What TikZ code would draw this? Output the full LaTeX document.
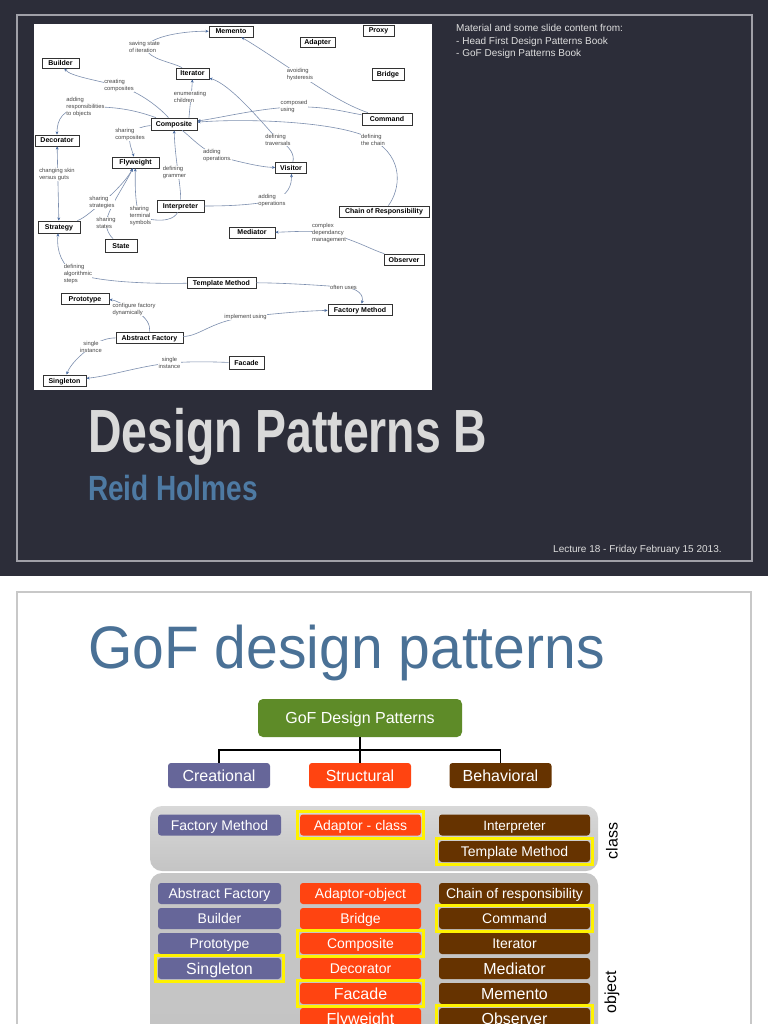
\documentclass[tikz,border=0pt]{standalone}
\usepackage{fontspec}
\setmainfont{Liberation Sans}
\usetikzlibrary{arrows.meta,fit}
\definecolor{slidebg}{RGB}{44,45,57}
\definecolor{slideborder}{RGB}{160,160,168}
\definecolor{titlegray}{RGB}{217,217,217}
\definecolor{notegray}{RGB}{222,222,222}
\definecolor{reidblue}{RGB}{78,122,163}
\definecolor{edgec}{RGB}{125,143,175}
\definecolor{arrowc}{RGB}{70,105,160}
\definecolor{lblc}{RGB}{70,70,70}
\definecolor{gofgreen}{RGB}{94,139,40}
\definecolor{crepurple}{RGB}{102,102,153}
\definecolor{strorange}{RGB}{255,68,17}
\definecolor{behbrown}{RGB}{102,51,0}
\definecolor{gofblue}{RGB}{74,113,150}
\definecolor{paneltop}{RGB}{216,216,216}
\definecolor{panelbot}{RGB}{196,196,196}
\definecolor{border2}{RGB}{200,200,200}
\begin{document}
\begin{tikzpicture}[x=1pt,y=-1pt,
  pnode/.style={draw=black!80, line width=0.7pt, fill=white, inner sep=0pt,
    text height=5.6, text depth=0.6,
    font=\fontsize{7}{8}\selectfont\bfseries},
  plbl/.style={font=\fontsize{5.8}{7}\selectfont, text=lblc, fill=white,
    inner sep=0.3pt, align=left},
  plblc/.style={plbl, align=center},
  edge/.style={draw=edgec, line width=0.6pt},
  arr/.style={-{Stealth[length=3.2pt,width=2.8pt,color=arrowc]}},
  darr/.style={{Stealth[length=3.2pt,width=2.8pt,color=arrowc]}-{Stealth[length=3.2pt,width=2.8pt,color=arrowc]}},
  catbox/.style={rounded corners=3pt, text=white, inner sep=0pt,
    minimum width=102, minimum height=25, text height=12.5, text depth=1,
    font=\fontsize{16}{16}\selectfont},
  item/.style={rounded corners=3pt, text=white, inner sep=0pt,
    minimum height=21, text height=11, text depth=1,
    font=\fontsize{14}{14}\selectfont},
  big/.style={font=\fontsize{16}{16}\selectfont, text height=12.4, text depth=1},
  creitem/.style={item, fill=crepurple, minimum width=123},
  stritem/.style={item, fill=strorange, minimum width=121},
  behitem/.style={item, fill=behbrown, minimum width=151},
  hl/.style={draw=yellow, line width=3pt, inner sep=2.5pt},
  tree/.style={draw=black, line width=1.2pt}
]
\useasboundingbox (0,0) rectangle (768,1024);
\fill[white] (0,0) rectangle (768,1024);
% ---------- top slide ----------
\fill[slidebg] (0,0) rectangle (768,576);
\draw[slideborder, line width=1.5pt] (17,15) rectangle (752,561);
\fill[white] (34,24) rectangle (432,390);

% pattern map nodes
\node[pnode, minimum width=44, minimum height=11] (mem) at (231,31.5) {Memento};
\node[pnode, minimum width=35, minimum height=10] (adp) at (317.5,42) {Adapter};
\node[pnode, minimum width=31, minimum height=11] (prx) at (378.5,30.5) {Proxy};
\node[pnode, minimum width=32, minimum height=12] (brg) at (388,74) {Bridge};
\node[pnode, minimum width=50, minimum height=12] (cmd) at (387,119) {Command};
\node[pnode, minimum width=37, minimum height=10] (bld) at (60.5,63) {Builder};
\node[pnode, minimum width=33, minimum height=11] (itr) at (192.5,73.5) {Iterator};
\node[pnode, minimum width=46, minimum height=12] (cmp) at (174,124) {Composite};
\node[pnode, minimum width=44, minimum height=11] (dec) at (57,140.5) {Decorator};
\node[pnode, minimum width=47, minimum height=11] (fly) at (135.5,162.5) {Flyweight};
\node[pnode, minimum width=47, minimum height=12] (int) at (180.5,206) {Interpreter};
\node[pnode, minimum width=42, minimum height=12] (str) at (59,227) {Strategy};
\node[pnode, minimum width=32, minimum height=13] (sta) at (121,245.5) {State};
\node[pnode, minimum width=31, minimum height=11] (vis) at (291,168) {Visitor};
\node[pnode, minimum width=90, minimum height=11] (cor) at (384,211.5) {Chain of Responsibility};
\node[pnode, minimum width=46, minimum height=11] (med) at (252,232.5) {Mediator};
\node[pnode, minimum width=40, minimum height=11] (obs) at (404,259.5) {Observer};
\node[pnode, minimum width=69, minimum height=11] (tpl) at (221.5,282.5) {Template Method};
\node[pnode, minimum width=48, minimum height=11] (pro) at (85,298.5) {Prototype};
\node[pnode, minimum width=67, minimum height=11] (af) at (149.5,337.5) {Abstract Factory};
\node[pnode, minimum width=43, minimum height=11] (sgl) at (64.5,380.5) {Singleton};
\node[pnode, minimum width=64, minimum height=11] (fm) at (360,309.5) {Factory Method};
\node[pnode, minimum width=35, minimum height=13] (fac) at (246.5,363) {Facade};

% pattern map connectors
\draw[edge, arr] (itr) .. controls (172,62) and (150,60) .. (145,48) .. controls (150,36) and (185,31) .. (mem);
\draw[edge, arr] (cmp) .. controls (160,108) and (140,92) .. (119,86) .. controls (95,80) and (70,76) .. (bld);
\draw[edge, arr] (cmp) .. controls (140,112) and (120,106) .. (86,107) .. controls (62,108) and (57,120) .. (dec);
\draw[edge, arr] (cmp.23) .. controls (190,105) and (192,90) .. (itr);
\draw[edge, arr] (cmd) .. controls (345,105) and (320,88) .. (300,75) .. controls (280,62) and (255,45) .. (mem);
\draw[edge, arr] (vis) .. controls (295,155) and (290,146) .. (278,140) .. controls (260,120) and (230,84) .. (itr);
\draw[edge, arr] (cmd) .. controls (345,112) and (325,106) .. (294,107) .. controls (260,108) and (220,118) .. (cmp);
\draw[edge, arr] (cor) .. controls (400,190) and (405,158) .. (373,140) .. controls (345,122) and (250,118) .. (cmp);
\draw[edge, arr] (cmp) .. controls (145,126) and (135,128) .. (130,135) .. controls (128,142) and (132,150) .. (fly);
\draw[edge, arr] (int) .. controls (181,185) and (175,160) .. (cmp);
\draw[edge, arr] (cmp) .. controls (192,138) and (200,148) .. (217,156) .. controls (240,162) and (260,167) .. (vis);
\draw[edge, arr] (int) .. controls (230,206) and (250,205) .. (272,201) .. controls (288,196) and (292,185) .. (vis);
\draw[edge, darr] (dec) -- (str);
\draw[edge, arr] (str) .. controls (85,218) and (95,208) .. (102,203) .. controls (115,192) and (128,178) .. (fly);
\draw[edge, arr] (sta) .. controls (110,236) and (106,230) .. (106,222) .. controls (110,205) and (125,185) .. (fly);
\draw[edge, arr] (int) .. controls (175,218) and (165,224) .. (140,217) .. controls (135,205) and (135,185) .. (fly);
\draw[edge, arr] (obs) .. controls (372,250) and (360,242) .. (329,233) .. controls (310,230) and (290,232) .. (med);
\draw[edge, arr] (tpl) .. controls (150,284) and (100,282) .. (78,274) .. controls (62,268) and (56,250) .. (str);
\draw[edge, arr] (tpl) .. controls (285,283) and (315,285) .. (343,287) .. controls (358,288) and (364,295) .. (fm);
\draw[edge, arr] (af) .. controls (150,325) and (148,318) .. (134,310) .. controls (122,304) and (115,300) .. (pro);
\draw[edge, arr] (af) .. controls (200,336) and (210,322) .. (245,317) .. controls (280,313) and (305,311) .. (fm);
\draw[edge, arr] (af) .. controls (108,338) and (100,340) .. (91,347) .. controls (80,355) and (70,365) .. (sgl);
\draw[edge, arr] (fac) .. controls (215,362) and (195,361) .. (170,363) .. controls (140,366) and (110,376) .. (sgl);

% pattern map labels
\node[plbl] (l1) at (144.5,47) {saving state\\of iteration};
\node[plbl] (l2) at (119,85.5) {creating\\composites};
\node[plbl] (l3) at (85.5,107) {adding\\responsibilities\\to objects};
\node[plbl] (l4) at (190,96.5) {enumerating\\children};
\node[plbl] (l5) at (300,75) {avoiding\\hysteresis};
\node[plbl] (l6) at (294,106.5) {composed\\using};
\node[plbl] (l7) at (278,140) {defining\\traversals};
\node[plbl] (l8) at (373,140) {defining\\the chain};
\node[plbl] (l9) at (130,134.5) {sharing\\composites};
\node[plbl] (l10) at (174.5,172.5) {defining\\grammer};
\node[plbl] (l11) at (217.5,156) {adding\\operations.};
\node[plbl] (l12) at (57,174.5) {changing skin\\versus guts};
\node[plbl] (l13) at (102,202.5) {sharing\\strategies};
\node[plbl] (l14) at (106,222.5) {sharing\\states};
\node[plbl] (l15) at (140.5,216.5) {sharing\\terminal\\symbols};
\node[plbl] (l16) at (272,200.5) {adding\\operations};
\node[plbl] (l17) at (329,233) {complex\\dependancy\\management};
\node[plbl] (l18) at (78,274) {defining\\algorithmic\\steps};
\node[plbl] (l19) at (134,309.5) {configure factory\\dynamically};
\node[plblc] (l20) at (91,346.5) {single\\instance};
\node[plblc] (l21) at (169.5,363) {single\\instance};
\node[plbl] (l22) at (245.5,317) {implement using};
\node[plbl] (l23) at (343.5,287) {often uses};

% slide texts
\node[anchor=base west, inner sep=0pt, text=notegray, font=\fontsize{10}{10}\selectfont] (note1) at (456,31.5) {Material and some slide content from:};
\node[anchor=base west, inner sep=0pt, text=notegray, font=\fontsize{10}{10}\selectfont] (note2) at (456,44.5) {- Head First Design Patterns Book};
\node[anchor=base west, inner sep=0pt, text=notegray, font=\fontsize{10}{10}\selectfont] (note3) at (456,56.5) {- GoF Design Patterns Book};
\node[anchor=base west, inner sep=0pt, text=titlegray, font=\fontsize{61}{61}\selectfont\bfseries] (title) at (88,452) {\scalebox{0.76}[1]{Design Patterns B}};
\node[anchor=base west, inner sep=0pt, text=reidblue, font=\fontsize{35}{35}\selectfont\bfseries] (author) at (88,500) {\scalebox{0.8}[1]{Reid Holmes}};
\node[anchor=base west, inner sep=0pt, text=notegray, font=\fontsize{10}{10}\selectfont] (lect) at (553,552) {Lecture 18 - Friday February 15 2013.};

% ---------- second slide ----------
\draw[border2, line width=1.5pt] (17,1030) -- (17,592) -- (751,592) -- (751,1030);
\node[anchor=base west, inner sep=0pt, text=gofblue, font=\fontsize{60}{60}\selectfont] (goft) at (88,668) {\scalebox{0.95}[1]{GoF design patterns}};

\node[rounded corners=5pt, fill=gofgreen, text=white, minimum width=204, minimum height=38, inner sep=0pt, text height=12.5, text depth=1, font=\fontsize{16}{16}\selectfont] (root) at (360,718) {GoF Design Patterns};
\node[catbox, fill=crepurple] (cre) at (219,775.5) {Creational};
\node[catbox, fill=strorange] (stru) at (360,775.5) {Structural};
\node[catbox, fill=behbrown] (beh) at (500.5,775.5) {Behavioral};
\coordinate (bus) at (360,750);
\draw[tree] (root) -- (bus) -| (cre);
\draw[tree] (bus) -| (beh);
\draw[tree] (bus) -- (stru);

\shade[top color=paneltop, bottom color=panelbot, rounded corners=12pt] (150,806) rectangle (598,871);
\shade[top color=panelbot!90!paneltop, bottom color=panelbot, rounded corners=12pt] (150,873) rectangle (598,1060);

% class row
\node[creitem] (gFM) at (219.5,825) {Factory Method};
\node[stritem] (gAdc) at (360.5,825) {Adaptor - class};
\node[behitem, font=\fontsize{13.5}{14}\selectfont] (gInt) at (514.5,825) {Interpreter};
\node[behitem] (gTpl) at (514.5,851.5) {Template Method};
% object rows
\node[creitem] (gAF) at (219.5,893.5) {Abstract Factory};
\node[creitem] (gBld) at (219.5,918.5) {Builder};
\node[creitem] (gPro) at (219.5,943.5) {Prototype};
\node[creitem, big] (gSgl) at (219.5,968.5) {Singleton};
\node[stritem] (gAdo) at (360.5,893.5) {Adaptor-object};
\node[stritem] (gBrg) at (360.5,918.5) {Bridge};
\node[stritem] (gCmp) at (360.5,943.5) {Composite};
\node[stritem] (gDec) at (360.5,968.5) {Decorator};
\node[stritem, big] (gFac) at (360.5,993.5) {Facade};
\node[stritem, big] (gFly) at (360.5,1018.5) {Flyweight};
\node[behitem] (gCoR) at (514.5,893.5) {Chain of responsibility};
\node[behitem] (gCmd) at (514.5,918.5) {Command};
\node[behitem] (gItr) at (514.5,943.5) {Iterator};
\node[behitem, big] (gMed) at (514.5,968.5) {Mediator};
\node[behitem, big] (gMem) at (514.5,993.5) {Memento};
\node[behitem, big] (gObs) at (514.5,1018.5) {Observer};

% highlights
\node[hl, fit=(gAdc)] (hAdc) {};
\node[hl, fit=(gTpl)] (hTpl) {};
\node[hl, fit=(gSgl)] (hSgl) {};
\node[hl, fit=(gCmp)] (hCmp) {};
\node[hl, fit=(gFac)] (hFac) {};
\node[hl, fit=(gCmd)] (hCmd) {};
\node[hl, fit=(gObs)] (hObs) {};

\node[rotate=90, inner sep=0pt, font=\fontsize{16}{16}\selectfont] (clsl) at (612,841) {class};
\node[rotate=90, inner sep=0pt, font=\fontsize{16}{16}\selectfont] (objl) at (612,992) {object};
\end{tikzpicture}
\end{document}
